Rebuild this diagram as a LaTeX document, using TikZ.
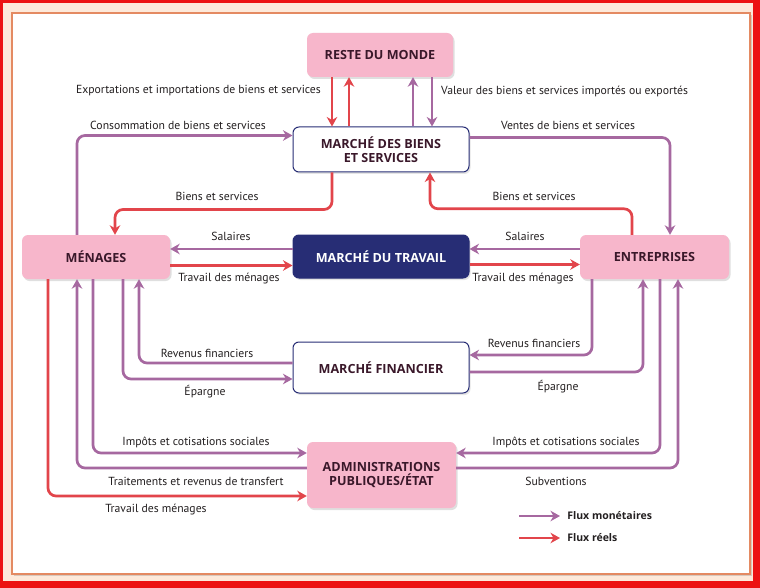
\documentclass[tikz,border=0pt]{standalone}
\usepackage{xcolor}
\usepackage{fontspec}
\setmainfont{PT Sans}
\newfontfamily\boxfont{Open Sans}
\usepackage{tikz}
\usetikzlibrary{arrows.meta, positioning, shadows}

\definecolor{monetaire}{RGB}{166,104,160}
\definecolor{reel}{RGB}{226,69,75}
\definecolor{agent}{RGB}{247,182,203}
\definecolor{marine}{RGB}{39,45,117}
\definecolor{cadre}{RGB}{253,233,218}
\definecolor{liseret}{RGB}{228,138,98}
\definecolor{bord}{RGB}{236,18,18}
\definecolor{texte}{RGB}{35,31,32}
\definecolor{prune}{RGB}{58,24,42}

\begin{document}
\begin{tikzpicture}[
    x=1pt, y=-1pt,
    agentbox/.style={rectangle, rounded corners=6pt, fill=agent, text=prune, align=center, font=\boxfont\fontsize{12.6}{14.5}\selectfont\bfseries, drop shadow={opacity=0.25, shadow xshift=1.5pt, shadow yshift=-2pt}},
    marche/.style={rectangle, rounded corners=6pt, draw=marine, line width=1pt, fill=white, text=prune, align=center, minimum width=176pt, font=\boxfont\fontsize{12.6}{14.5}\selectfont\bfseries, drop shadow={opacity=0.2, shadow xshift=1.5pt, shadow yshift=-2pt}},
    flux/.style={line width=2.7pt, rounded corners=8pt, -{Stealth[length=9.5pt, width=10.5pt, inset=3pt]}},
    monet/.style={flux, color=monetaire},
    reelf/.style={flux, color=reel},
    lbl/.style={font=\fontsize{11.7}{13}\selectfont, text=texte, inner sep=1pt},
    leglbl/.style={font=\boxfont\fontsize{10.5}{12}\selectfont\bfseries, text=texte, inner sep=1pt},
]
\useasboundingbox (0,0) rectangle (760,588);

% Cadre
\fill[bord] (0,0) rectangle (760,588);
\fill[cadre] (3,3) rectangle (753,581);
\filldraw[fill=white, draw=liseret, line width=1.6pt, drop shadow={opacity=0.3, shadow xshift=2pt, shadow yshift=-2pt}] (12,13) rectangle (750,574);

% Agents
\node[agentbox, minimum width=146pt, minimum height=44pt] (rdm) at (380,55) {RESTE DU MONDE};
\node[agentbox, minimum width=148pt, minimum height=44pt] (menages) at (96,257) {MÉNAGES};
\node[agentbox, minimum width=149pt, minimum height=44pt] (entreprises) at (654.5,257) {ENTREPRISES};
\node[agentbox, minimum width=149pt, minimum height=66pt] (admin) at (381.5,475) {ADMINISTRATIONS\\PUBLIQUES/ÉTAT};

% Marchés
\node[marche, minimum height=45pt] (mbs) at (381,149.5) {MARCHÉ DES BIENS\\ET SERVICES};
\node[marche, minimum height=43pt, fill=marine, text=white] (mdt) at (381,256.5) {MARCHÉ DU TRAVAIL};
\node[marche, minimum height=51pt] (mf) at (381,367.5) {MARCHÉ FINANCIER};

% === Reste du monde ===
\draw[reelf] ([xshift=-48pt]rdm.south) -- ([xshift=-48pt]rdm.south |- mbs.north);
\draw[reelf] ([xshift=-32pt]mbs.north) -- ([xshift=-32pt]mbs.north |- rdm.south);
\draw[monet] ([xshift=32pt]mbs.north) -- ([xshift=32pt]mbs.north |- rdm.south);
\draw[monet] ([xshift=52pt]rdm.south) -- ([xshift=52pt]rdm.south |- mbs.north);
\node[lbl, anchor=east] (l-export) at (322,91) {Exportations et importations de biens et services};
\node[lbl, anchor=west] (l-valeur) at (440,91) {Valeur des biens et services importés ou exportés};

% === Marché des biens et services ===
\draw[monet] ([xshift=-19pt]menages.north) |- ([yshift=14pt]mbs.west);
\node[lbl] (l-conso) at (178,125) {Consommation de biens et services};
\draw[monet] ([yshift=12pt]mbs.east) -| ([xshift=15.5pt]entreprises.north);
\node[lbl] (l-ventes) at (568,125) {Ventes de biens et services};
\draw[reelf] ([xshift=-49pt]mbs.south) -- ++(0,37) -| ([xshift=19pt]menages.north);
\node[lbl] (l-biens1) at (217,196) {Biens et services};
\draw[reelf] ([xshift=-22.5pt]entreprises.north) -- ++(0,-26) -| ([xshift=49pt]mbs.south);
\node[lbl] (l-biens2) at (534,196) {Biens et services};

% === Marché du travail ===
\draw[monet] ([yshift=7.5pt]mdt.west) -- ([yshift=7.5pt]mdt.west -| menages.east);
\node[lbl] (l-sal1) at (231,236) {Salaires};
\draw[reelf] ([yshift=-8.5pt]menages.east) -- ([yshift=-8.5pt]menages.east -| mdt.west);
\node[lbl] (l-trav1) at (229,279) {Travail des ménages};
\draw[monet] ([yshift=8pt]entreprises.west) -- ([yshift=8pt]entreprises.west -| mdt.east);
\node[lbl] (l-sal2) at (525,236) {Salaires};
\draw[reelf] ([yshift=-8pt]mdt.east) -- ([yshift=-8pt]mdt.east -| entreprises.west);
\node[lbl] (l-trav2) at (523,279) {Travail des ménages};

% === Marché financier ===
\draw[monet] ([xshift=27pt]menages.south) |- ([yshift=-11.5pt]mf.west);
\node[lbl] (l-epar1) at (205,392) {Épargne};
\draw[monet] ([yshift=4.5pt]mf.west) -| ([xshift=43pt]menages.south);
\node[lbl] (l-rev1) at (207,353) {Revenus financiers};
\draw[monet] ([xshift=-62.5pt]entreprises.south) |- ([yshift=12.5pt]mf.east);
\node[lbl] (l-rev2) at (534,343) {Revenus financiers};
\draw[monet] ([yshift=-4.5pt]mf.east) -| ([xshift=-11.5pt]entreprises.south);
\node[lbl] (l-epar2) at (558,387) {Épargne};

% === Administrations ===
\draw[monet] ([xshift=-3pt]menages.south) |- ([yshift=22pt]admin.west);
\node[lbl] (l-imp1) at (196,442) {Impôts et cotisations sociales};
\draw[monet] ([yshift=7pt]admin.west) -| ([xshift=-19pt]menages.south);
\node[lbl] (l-trait) at (196,481) {Traitements et revenus de transfert};
\draw[reelf] ([xshift=-48pt]menages.south) |- ([yshift=-21pt]admin.west);
\node[lbl] (l-trav3) at (156,510) {Travail des ménages};
\draw[monet] ([xshift=5.5pt]entreprises.south) |- ([yshift=22pt]admin.east);
\node[lbl] (l-imp2) at (566,442) {Impôts et cotisations sociales};
\draw[monet] ([yshift=7pt]admin.east) -| ([xshift=23.5pt]entreprises.south);
\node[lbl] (l-subv) at (556,481) {Subventions};

% === Légende ===
\coordinate (leg1) at (519,516);
\coordinate (leg2) at (519,538);
\draw[monet] (leg1) -- ++(41,0) node[leglbl, right=5pt] (l-monet) {Flux monétaires};
\draw[reelf] (leg2) -- ++(41,0) node[leglbl, right=5pt] (l-reel) {Flux réels};

\end{tikzpicture}
\end{document}
